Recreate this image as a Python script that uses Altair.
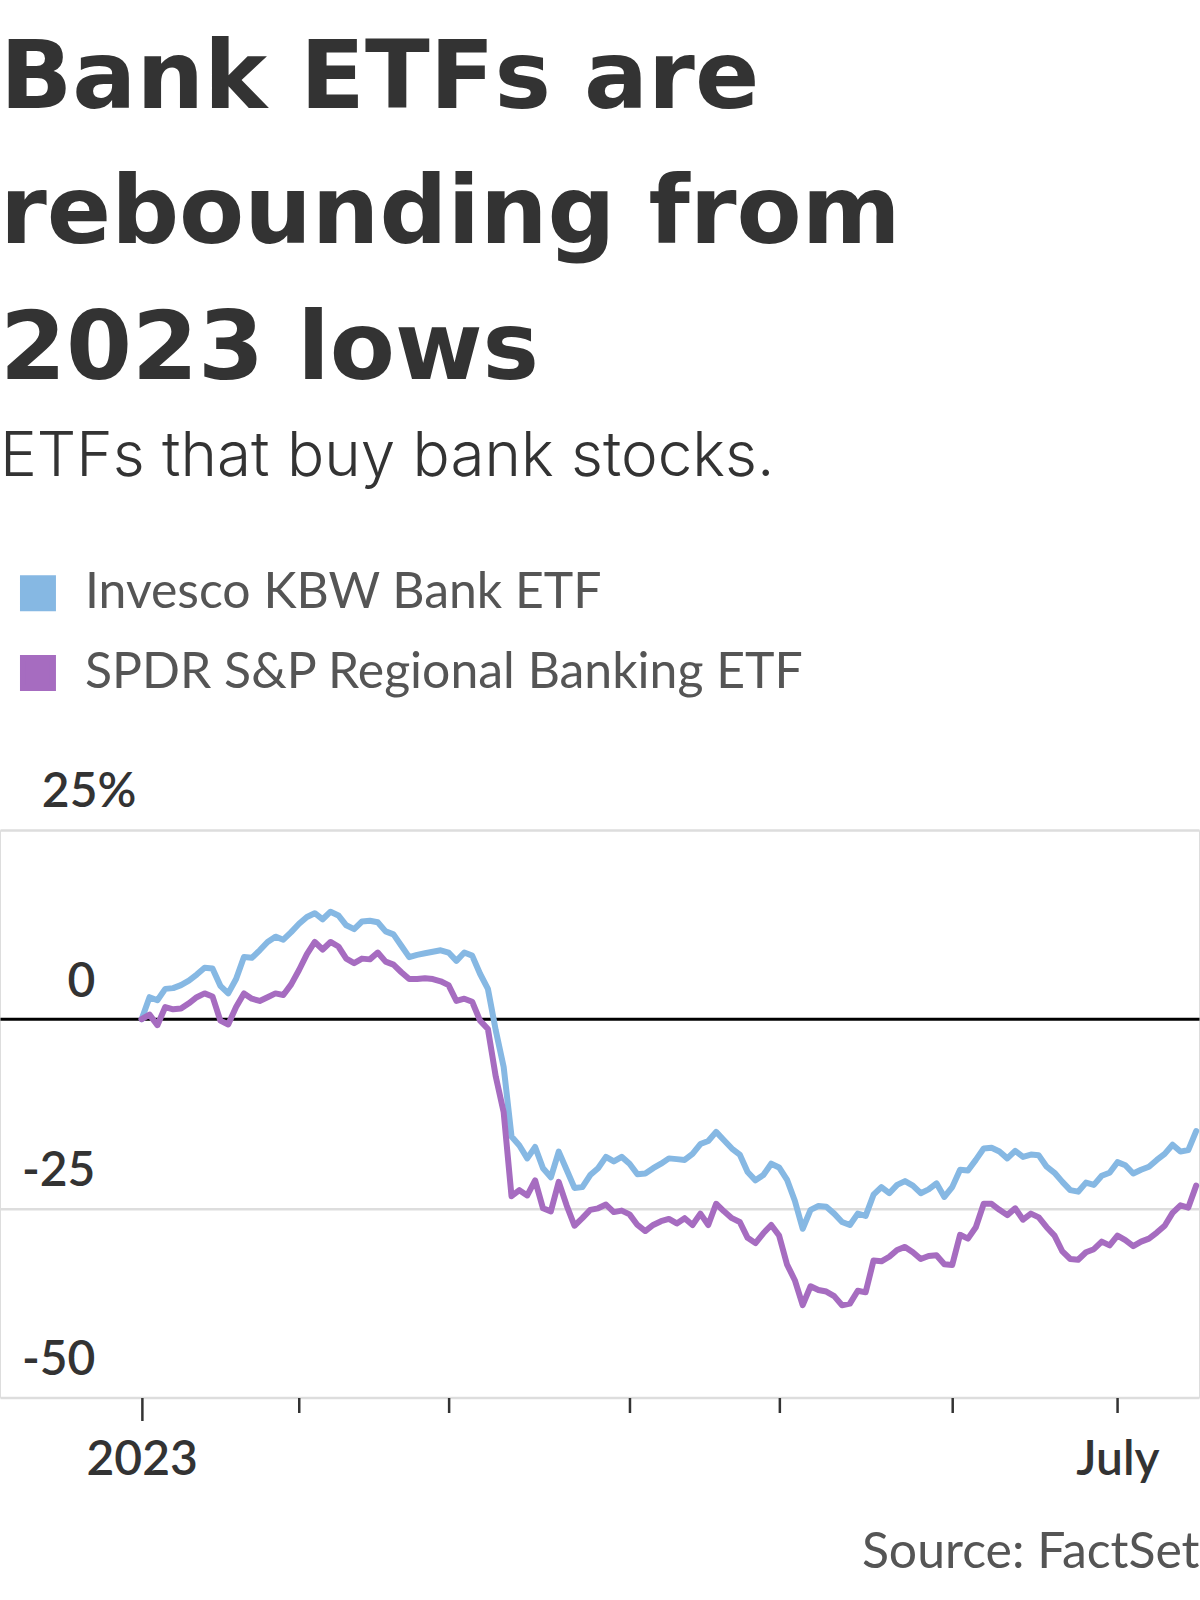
import altair as alt
import pandas as pd

# ---- data (percent change since start of 2023, per trading day) ----
series_names = ["Invesco KBW Bank ETF", "SPDR S&P Regional Banking ETF"]
series_colors = ["#86b8e3", "#a66cc0"]

kbwb = [
    0.0, 2.9, 2.5, 4.0, 4.1, 4.5, 5.1, 5.9, 6.8, 6.7,
    4.4, 3.4, 5.3, 8.2, 8.1, 9.1, 10.2, 10.9, 10.5, 11.5,
    12.6, 13.5, 14.0, 13.2, 14.2, 13.7, 12.4, 11.9, 12.9, 13.0,
    12.8, 11.6, 11.2, 9.7, 8.2, 8.5, 8.7, 8.9, 9.1, 8.8,
    7.7, 8.8, 8.4, 6.0, 4.0, -1.5, -6.3, -15.5, -16.7, -18.4,
    -16.9, -19.7, -20.9, -17.5, -19.9, -22.3, -22.2, -20.6, -19.7, -18.2,
    -18.8, -18.2, -19.1, -20.5, -20.4, -19.7, -19.1, -18.4, -18.5, -18.6,
    -17.8, -16.5, -16.1, -14.9, -16.0, -17.1, -17.9, -20.2, -21.3, -20.6,
    -19.1, -19.6, -21.2, -24.0, -27.7, -25.2, -24.7, -24.8, -25.7, -26.8,
    -27.2, -25.7, -26.0, -23.2, -22.2, -23.0, -21.9, -21.4, -22.0, -23.0,
    -22.5, -21.7, -23.5, -22.2, -19.9, -20.0, -18.6, -17.1, -17.0, -17.5,
    -18.4, -17.4, -18.2, -17.9, -18.0, -19.5, -20.3, -21.5, -22.6, -22.8,
    -21.6, -21.9, -20.7, -20.3, -18.9, -19.3, -20.4, -19.9, -19.5, -18.6,
    -17.8, -16.6, -17.5, -17.3, -14.8,
]

kre = [
    0.0, 0.6, -0.8, 1.6, 1.3, 1.4, 2.1, 2.9, 3.4, 3.0,
    -0.2, -0.7, 1.6, 3.4, 2.7, 2.4, 2.9, 3.4, 3.2, 4.6,
    6.5, 8.6, 10.2, 9.2, 10.2, 9.6, 8.0, 7.4, 8.0, 7.9,
    8.8, 7.6, 7.2, 6.2, 5.3, 5.3, 5.4, 5.3, 5.0, 4.5,
    2.4, 2.7, 2.3, -0.2, -1.3, -7.6, -12.3, -23.4, -22.6, -23.3,
    -21.3, -25.0, -25.4, -21.5, -24.6, -27.3, -26.3, -25.2, -25.0, -24.5,
    -25.5, -25.3, -25.8, -27.2, -28.0, -27.2, -26.7, -26.4, -27.0, -26.3,
    -27.2, -25.7, -27.2, -24.4, -25.4, -26.3, -26.8, -28.9, -29.6, -28.3,
    -27.2, -28.6, -32.4, -34.5, -37.8, -35.3, -35.8, -36.0, -36.6, -37.8,
    -37.6, -35.9, -36.1, -31.9, -32.0, -31.4, -30.5, -30.1, -30.8, -31.7,
    -31.3, -31.2, -32.4, -32.5, -28.5, -29.0, -27.5, -24.4, -24.4, -25.2,
    -25.9, -25.0, -26.5, -25.7, -26.2, -27.5, -28.6, -30.7, -31.7, -31.8,
    -30.8, -30.4, -29.4, -29.9, -28.6, -29.2, -30.0, -29.4, -29.0, -28.2,
    -27.3, -25.6, -24.6, -24.9, -22.0,
]

# trading-day index of first session of each month (Jan..Jul 2023)
tick_days = [0, 20, 39, 62, 81, 103, 124]
tick_labels = ["2023", "", "", "", "", "", "July"]
y_ticks = [-50, -25, 0, 25]

title_lines = ["Bank ETFs are", "rebounding from", "2023 lows"]
subtitle_text = "ETFs that buy bank stocks."
source_text = "Source: FactSet"

rows = []
for name, vals in zip(series_names, [kbwb, kre]):
    for i, v in enumerate(vals):
        rows.append({"day": i, "series": name, "pct": v})
df = pd.DataFrame(rows)

x_label_expr = " : ".join(
    [f"datum.value == {d} ? '{l}'" for d, l in zip(tick_days, tick_labels) if l] + ["''"]
)
y_label_expr = "datum.value == 25 ? '25%' : '' + datum.value"

FONT = "Lato"

x_axis = alt.Axis(
    values=tick_days,
    labelExpr=x_label_expr,
    grid=False,
    domain=False,
    ticks=True,
    tickSize={"condition": {"test": "datum.value == 0", "value": 23}, "value": 15},
    tickWidth=2.5,
    tickColor="#333333",
    labelFont=FONT,
    labelFontSize=48,
    labelFontWeight=600,
    labelColor="#333333",
    labelBaseline="alphabetic",
    labelPadding={"condition": {"test": "datum.value == 0", "value": 54}, "value": 62},
    labelAngle=0,
    labelFlush=False,
    labelOverlap=False,
    title=source_text,
    titleFont=FONT,
    titleFontSize=50,
    titleFontWeight=400,
    titleColor="#555555",
    titleX=1200,
    titleY=170,
    titleAlign="right",
    titleBaseline="alphabetic",
    titleAnchor="end",
)

y_axis = alt.Axis(
    values=y_ticks,
    labelExpr=y_label_expr,
    grid=True,
    gridColor={"condition": {"test": "datum.value == 0", "value": "#000000"}, "value": "#dddddd"},
    gridWidth={"condition": {"test": "datum.value == 0", "value": 3}, "value": 2.5},
    domain=False,
    ticks=False,
    tickSize=0,
    labelFont=FONT,
    labelFontSize=48,
    labelFontWeight=600,
    labelColor="#333333",
    labelAlign="right",
    labelBaseline="alphabetic",
    labelOffset=-23,
    labelPadding={"condition": {"test": "datum.value == 25", "value": -136}, "value": -95},
    labelFlush=False,
    labelOverlap=False,
    title=None,
)

# square swatches: filled from the colour scale, outlined in the same colour
legend = alt.Legend(
    orient="none",
    legendX=13,
    legendY=-262,
    direction="vertical",
    symbolType="square",
    symbolSize=900,
    symbolStrokeWidth=6,
    symbolFillColor={"expr": "scale('color', datum.value)"},
    symbolOpacity=1,
    labelFont=FONT,
    labelFontSize=50,
    labelColor="#555555",
    labelOffset=22,
    rowPadding=26,
    labelLimit=2000,
)

chart = (
    alt.Chart(df)
    .mark_line(strokeWidth=6, strokeJoin="round", strokeCap="round")
    .encode(
        x=alt.X("day:Q", scale=alt.Scale(domain=[-18.0, 134.36], nice=False, zero=False), axis=x_axis),
        y=alt.Y("pct:Q", scale=alt.Scale(domain=[-50, 25], nice=False), axis=y_axis),
        color=alt.Color(
            "series:N",
            scale=alt.Scale(domain=series_names, range=series_colors),
            title=None,
            legend=legend,
        ),
        strokeWidth=alt.value(6),
    )
    .properties(
        width=1200,
        height=568,
        padding={"left": 0, "right": 0, "top": 31, "bottom": 20},
        title=alt.TitleParams(
            text=title_lines,
            subtitle=subtitle_text,
            anchor="start",
            font="DejaVu Sans",
            fontSize=95,
            fontWeight="bold",
            color="#333333",
            lineHeight=136,
            subtitleFont="Inter",
            subtitleFontSize=62,
            subtitleFontWeight=300,
            subtitleColor="#333333",
            subtitlePadding=28,
            offset=79,
        ),
    )
    .configure_view(strokeWidth=0, stroke="transparent")
    .configure(background="white")
)

chart.save("out.html", embed_options={"renderer": "svg", "actions": False})
